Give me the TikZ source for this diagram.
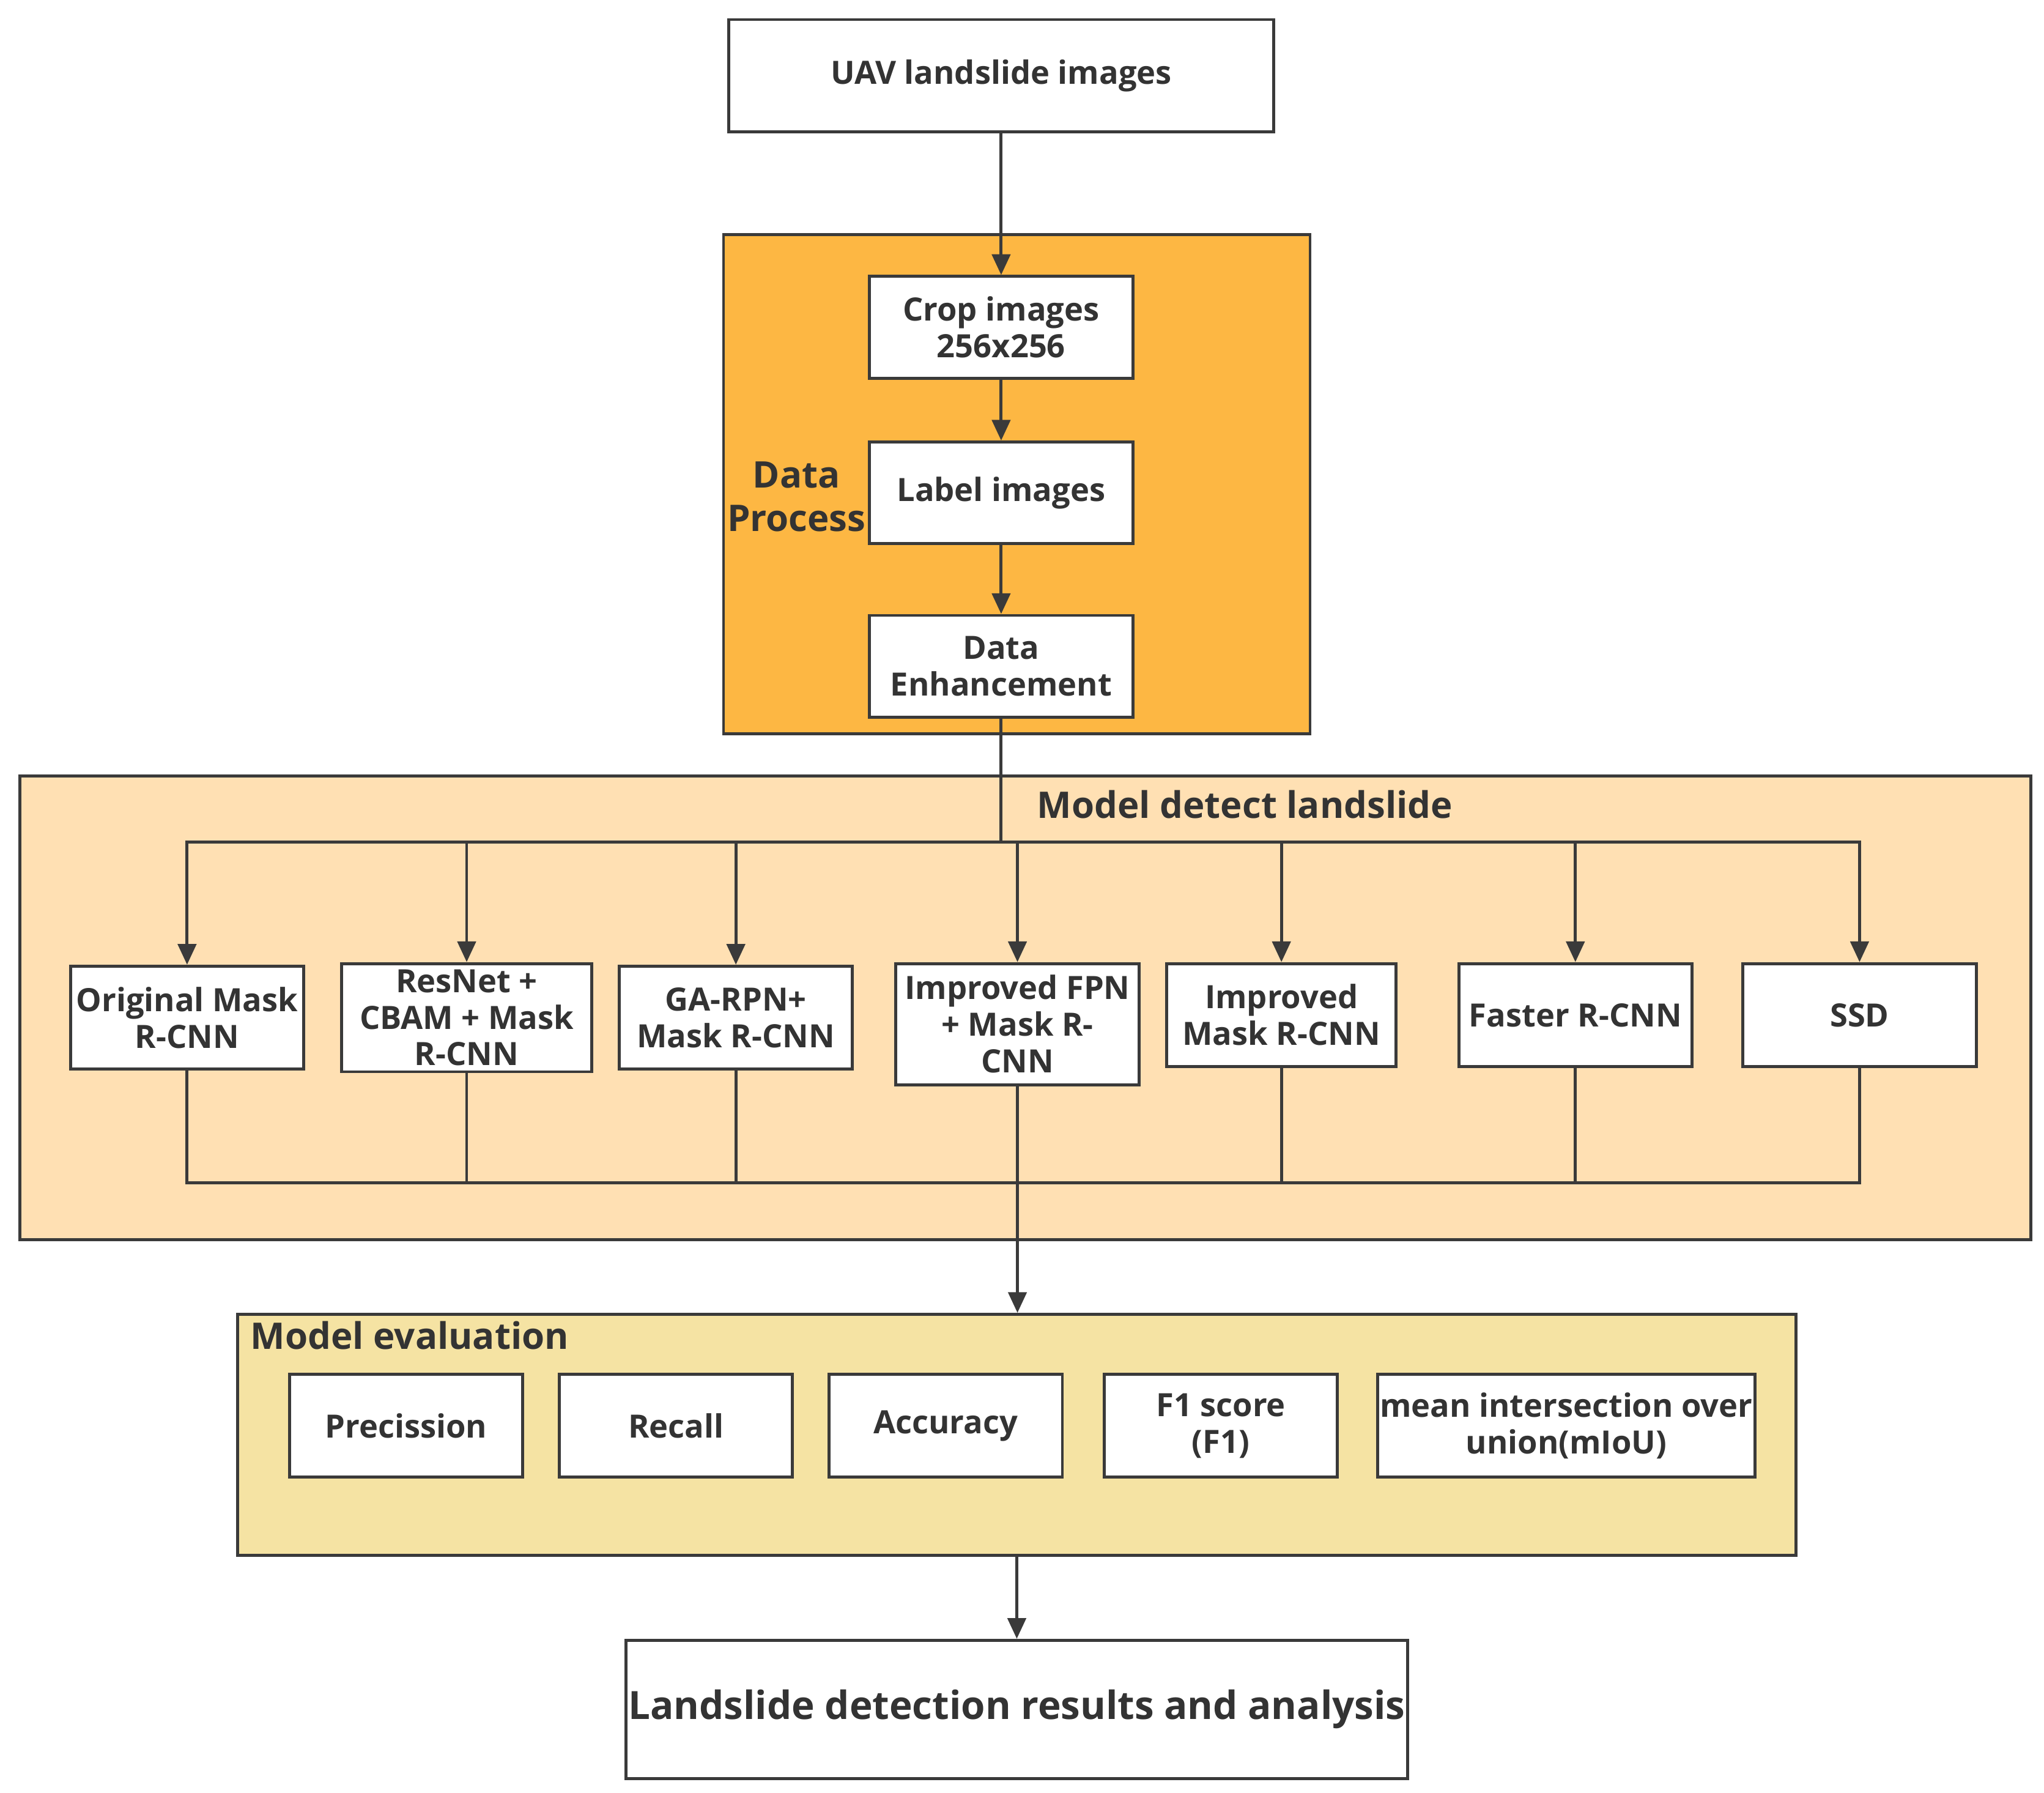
\documentclass[tikz,border=0pt]{standalone}
\usepackage{fontspec}
\setmainfont{Open Sans}
\usetikzlibrary{arrows.meta}
\definecolor{tx}{HTML}{333333}
\definecolor{ln}{HTML}{3A3A3A}
\definecolor{orangeA}{HTML}{FDB743}
\definecolor{peach}{HTML}{FFE0B3}
\definecolor{sand}{HTML}{F5E3A3}
\newcommand\Bx[7][box]{\node[#1,minimum width=\fpeval{(#5-#3)*0.02}cm,minimum height=\fpeval{(#6-#4)*0.02}cm] (#2) at (\fpeval{(#3+#5)/2},\fpeval{(#4+#6)/2}) {#7};}
\begin{document}
\begin{tikzpicture}[x=0.02cm,y=-0.02cm,
 box/.style={draw=ln,line width=1.3pt,fill=white,inner sep=1pt,align=center,text=tx,font=\fontsize{14}{16}\selectfont\bfseries,text width=\fpeval{0}cm},
 box/.style={draw=ln,line width=1.3pt,fill=white,inner sep=1pt,align=center,text=tx,font=\fontsize{14}{16}\selectfont\bfseries},
 region/.style={draw=ln,line width=1.3pt,inner sep=0pt},
 arr/.style={draw=ln,line width=1.3pt,-{Triangle[length=9pt,width=8pt]}},
 ln/.style={draw=ln,line width=1.3pt}]
\useasboundingbox (0,0) rectangle (1568,1375);
\Bx{uav}{559}{15}{977}{101}{UAV landslide images}
\Bx[region,fill=orangeA]{dp}{555}{180}{1005}{563}{}
\Bx[region,fill=peach]{md}{15}{595}{1558}{951}{}
\Bx[region,fill=sand]{me}{182}{1008}{1378}{1193}{}
\node[text=tx,font=\fontsize{16}{19}\selectfont\bfseries,align=center] (dpt) at (611,381) {Data\\Process};
\node[text=tx,font=\fontsize{16}{19}\selectfont\bfseries] (mdt) at (955,617) {Model detect landslide};
\node[text=tx,font=\fontsize{16}{19}\selectfont\bfseries,anchor=west,inner sep=0pt] (met) at (192,1024) {Model evaluation};
\Bx{crop}{667}{212}{869}{290}{Crop images\\256x256}
\Bx{lab}{667}{339}{869}{417}{Label images}
\Bx{enh}{667}{472}{869}{550}{Data\\Enhancement}
\Bx{m1}{54}{741}{233}{820}{Original Mask\\R-CNN}
\Bx{m2}{262}{739}{454}{822}{ResNet +\\CBAM + Mask\\R-CNN}
\Bx{m3}{475}{741}{654}{820}{GA-RPN+\\Mask R-CNN}
\Bx{m4}{687}{739}{874}{832}{Improved FPN\\+ Mask R-\\CNN}
\Bx{m5}{895}{739}{1071}{818}{Improved\\Mask R-CNN}
\Bx{m6}{1119}{739}{1298}{818}{Faster R-CNN}
\Bx{m7}{1337}{739}{1516}{818}{SSD}
\Bx{e1}{222}{1054}{401}{1133}{Precission}
\Bx{e2}{429}{1054}{608}{1133}{Recall}
\Bx{e3}{636}{1054}{815}{1133}{Accuracy}
\Bx{e4}{847}{1054}{1026}{1133}{F1 score\\(F1)}
\Bx{e5}{1059}{1054}{1344}{1133}{mean intersection over\\union(mIoU)}
\Bx[box,font=\fontsize{17}{20}\selectfont\bfseries]{res}{493}{1258}{1067}{1364}{Landslide detection results and analysis}
\coordinate (split) at (768,646);
\coordinate (join) at (780,907);
\draw[arr] (uav) -- (crop);
\draw[arr] (crop) -- (lab);
\draw[arr] (lab) -- (enh);
\draw[ln] (enh.south) -- (split);
\foreach \m in {m1,m2,m3,m4,m5,m6,m7}{
 \draw[arr] (split) -| (\m.north);
 \draw[ln] (\m.south) |- (join);
}
\draw[arr] (m4.south) -- (me.north -| m4.south);
\draw[arr] (me.south -| res.north) -- (res.north);
\end{tikzpicture}
\end{document}
